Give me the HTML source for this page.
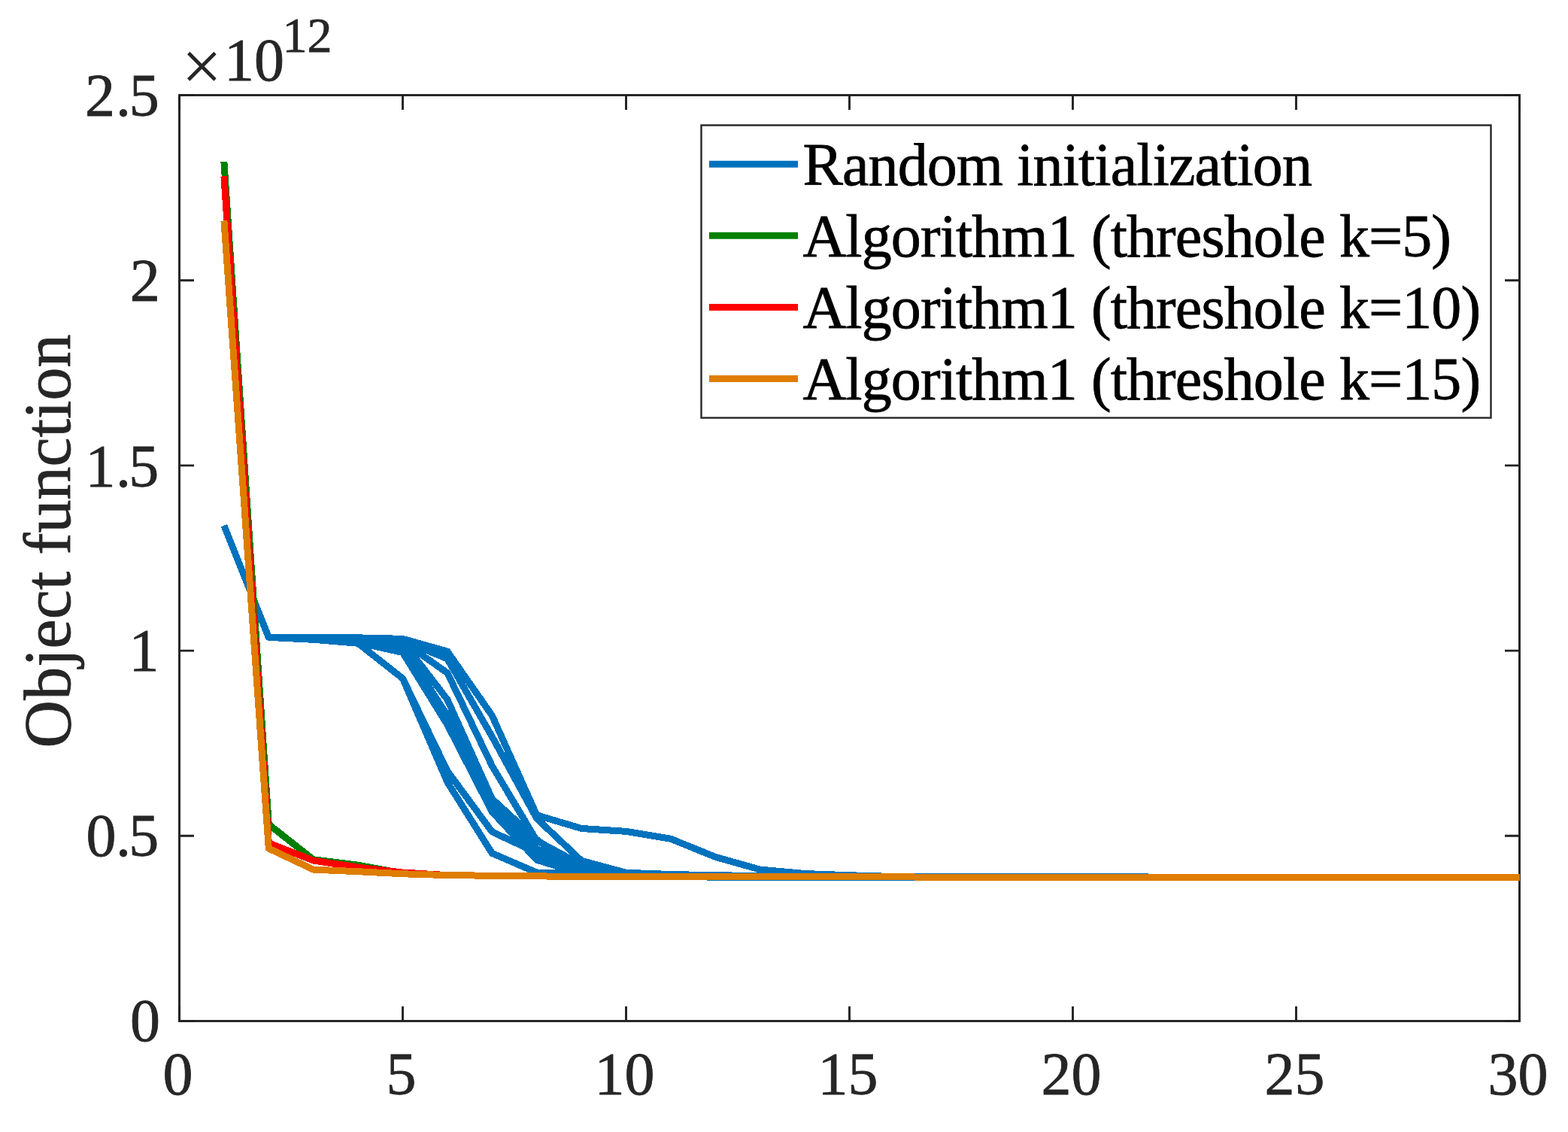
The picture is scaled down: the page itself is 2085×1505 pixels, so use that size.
<!DOCTYPE html>
<html><head><meta charset="utf-8"><style>
html,body{margin:0;padding:0;background:#fff;overflow:hidden;}
svg{display:block;}
text{font-family:"Liberation Serif",serif;}
</style></head><body>
<svg width="2085" height="1505" viewBox="0 0 2085 1505">
<rect width="2085" height="1505" fill="#fff"/>
<g fill="none" stroke="#222222" stroke-width="2.9" stroke-linecap="square">
<rect x="238.5" y="126.5" width="1782.0" height="1231.0"/>
</g>
<path d="M238.50 1357.5V1338.00M238.50 126.5V146.00M535.50 1357.5V1338.00M535.50 126.5V146.00M832.50 1357.5V1338.00M832.50 126.5V146.00M1129.50 1357.5V1338.00M1129.50 126.5V146.00M1426.50 1357.5V1338.00M1426.50 126.5V146.00M1723.50 1357.5V1338.00M1723.50 126.5V146.00M2020.50 1357.5V1338.00M2020.50 126.5V146.00M238.5 1357.50H258.00M2020.5 1357.50H2001.00M238.5 1111.30H258.00M2020.5 1111.30H2001.00M238.5 865.10H258.00M2020.5 865.10H2001.00M238.5 618.90H258.00M2020.5 618.90H2001.00M238.5 372.70H258.00M2020.5 372.70H2001.00M238.5 126.50H258.00M2020.5 126.50H2001.00" stroke="#222222" stroke-width="2.9" fill="none"/>
<g shape-rendering="crispEdges" fill="none" stroke-width="9" stroke-linejoin="round" stroke-linecap="butt">
<polyline points="297.90,698.67 357.30,847.37 416.70,850.33 476.10,855.25 535.50,902.03 594.90,1039.90 654.30,1134.44 713.70,1160.05 773.10,1161.03 832.50,1163.00 891.90,1163.99 951.30,1166.50 1010.70,1166.50 1070.10,1166.50 1129.50,1166.50 1188.90,1166.50 1248.30,1166.50 1307.70,1166.50 1367.10,1166.50 1426.50,1166.50 1485.90,1166.50 1545.30,1166.50 1604.70,1166.50 1664.10,1166.50 1723.50,1166.50 1782.90,1166.50 1842.30,1166.50 1901.70,1166.50 1961.10,1166.50 2020.50,1166.50" stroke="#0072BD"/>
<polyline points="297.90,698.67 357.30,847.37 416.70,850.33 476.10,855.25 535.50,902.03 594.90,1025.13 654.30,1105.88 713.70,1133.70 773.10,1160.54 832.50,1162.02 891.90,1163.99 951.30,1164.97 1010.70,1165.51 1070.10,1165.51 1129.50,1165.51 1188.90,1165.51 1248.30,1166.10 1307.70,1166.10 1367.10,1166.10 1426.50,1166.10 1485.90,1166.10 1545.30,1166.10 1604.70,1166.10 1664.10,1166.10 1723.50,1166.10 1782.90,1166.10 1842.30,1166.10 1901.70,1166.10 1961.10,1166.10 2020.50,1166.10" stroke="#0072BD"/>
<polyline points="297.90,698.67 357.30,847.37 416.70,849.34 476.10,854.27 535.50,867.56 594.90,963.58 654.30,1079.29 713.70,1143.31 773.10,1161.52 832.50,1163.00 891.90,1164.48 951.30,1165.22 1010.70,1165.51 1070.10,1165.51 1129.50,1165.51 1188.90,1165.51 1248.30,1166.10 1307.70,1166.10 1367.10,1166.10 1426.50,1166.10 1485.90,1166.10 1545.30,1166.10 1604.70,1166.10 1664.10,1166.10 1723.50,1166.10 1782.90,1166.10 1842.30,1166.10 1901.70,1166.10 1961.10,1166.10 2020.50,1166.10" stroke="#0072BD"/>
<polyline points="297.90,698.67 357.30,847.37 416.70,848.36 476.10,852.30 535.50,859.19 594.90,951.27 654.30,1070.43 713.70,1128.53 773.10,1159.06 832.50,1162.51 891.90,1163.99 951.30,1164.97 1010.70,1165.51 1070.10,1165.51 1129.50,1165.51 1188.90,1165.51 1248.30,1166.10 1307.70,1166.10 1367.10,1166.10 1426.50,1166.10 1485.90,1166.10 1545.30,1166.10 1604.70,1166.10 1664.10,1166.10 1723.50,1166.10 1782.90,1166.10 1842.30,1166.10 1901.70,1166.10 1961.10,1166.10 2020.50,1166.10" stroke="#0072BD"/>
<polyline points="297.90,698.67 357.30,847.37 416.70,848.36 476.10,850.33 535.50,852.79 594.90,930.10 654.30,1062.06 713.70,1116.22 773.10,1158.08 832.50,1162.02 891.90,1163.49 951.30,1164.97 1010.70,1165.51 1070.10,1165.51 1129.50,1165.51 1188.90,1165.51 1248.30,1166.10 1307.70,1166.10 1367.10,1166.10 1426.50,1166.10 1485.90,1166.10 1545.30,1166.10 1604.70,1166.10 1664.10,1166.10 1723.50,1166.10 1782.90,1166.10 1842.30,1166.10 1901.70,1166.10 1961.10,1166.10 2020.50,1166.10" stroke="#0072BD"/>
<polyline points="297.90,698.67 357.30,847.37 416.70,848.36 476.10,850.33 535.50,852.79 594.90,894.64 654.30,1018.24 713.70,1117.70 773.10,1149.71 832.50,1161.52 891.90,1163.49 951.30,1164.48 1010.70,1165.22 1070.10,1165.51 1129.50,1165.51 1188.90,1165.51 1248.30,1166.10 1307.70,1166.10 1367.10,1166.10 1426.50,1166.10 1485.90,1166.10 1545.30,1166.10 1604.70,1166.10 1664.10,1166.10 1723.50,1166.10 1782.90,1166.10 1842.30,1166.10 1901.70,1166.10 1961.10,1166.10 2020.50,1166.10" stroke="#0072BD"/>
<polyline points="297.90,698.67 357.30,847.37 416.70,847.87 476.10,849.34 535.50,851.31 594.90,875.93 654.30,979.34 713.70,1088.16 773.10,1144.29 832.50,1160.29 891.90,1162.51 951.30,1163.74 1010.70,1164.48 1070.10,1164.97 1129.50,1165.22 1188.90,1165.51 1248.30,1165.51 1307.70,1165.51 1367.10,1165.51 1426.50,1165.51 1485.90,1165.81 1545.30,1166.10 1604.70,1166.10 1664.10,1166.10 1723.50,1166.10 1782.90,1166.10 1842.30,1166.10 1901.70,1166.10 1961.10,1166.10 2020.50,1166.10" stroke="#0072BD"/>
<polyline points="297.90,698.67 357.30,847.37 416.70,847.87 476.10,847.87 535.50,849.34 594.90,866.08 654.30,951.27 713.70,1083.73 773.10,1101.45 832.50,1105.39 891.90,1115.24 951.30,1139.37 1010.70,1156.11 1070.10,1161.52 1129.50,1163.74 1188.90,1165.51 1248.30,1166.10 1307.70,1166.10 1367.10,1166.10 1426.50,1166.10 1485.90,1166.10 1545.30,1166.10 1604.70,1166.10 1664.10,1166.10 1723.50,1166.10 1782.90,1166.10 1842.30,1166.10 1901.70,1166.10 1961.10,1166.10 2020.50,1166.10" stroke="#0072BD"/>
<polyline points="297.90,215.13 357.30,1096.04 416.70,1142.81 476.10,1150.20 535.50,1161.03 594.90,1163.59 654.30,1164.28 713.70,1164.87 773.10,1165.51 832.50,1165.51 891.90,1165.51 951.30,1165.51 1010.70,1165.51 1070.10,1165.51 1129.50,1165.51 1188.90,1165.51 1248.30,1166.60 1307.70,1166.10 1367.10,1166.10 1426.50,1166.10 1485.90,1166.10 1545.30,1166.10 1604.70,1166.10 1664.10,1166.10 1723.50,1166.10 1782.90,1166.10 1842.30,1166.10 1901.70,1166.10 1961.10,1166.10 2020.50,1166.10" stroke="#008000"/>
<polyline points="297.90,234.34 357.30,1120.90 416.70,1144.04 476.10,1153.15 535.50,1160.05 594.90,1163.59 654.30,1164.28 713.70,1164.87 773.10,1165.51 832.50,1165.51 891.90,1165.51 951.30,1165.51 1010.70,1165.51 1070.10,1165.51 1129.50,1165.51 1188.90,1165.51 1248.30,1166.60 1307.70,1166.10 1367.10,1166.10 1426.50,1166.10 1485.90,1166.10 1545.30,1166.10 1604.70,1166.10 1664.10,1166.10 1723.50,1166.10 1782.90,1166.10 1842.30,1166.10 1901.70,1166.10 1961.10,1166.10 2020.50,1166.10" stroke="#FF0000"/>
<polyline points="297.90,293.42 357.30,1128.04 416.70,1156.11 476.10,1158.72 535.50,1161.77 594.90,1163.59 654.30,1164.28 713.70,1164.87 773.10,1165.51 832.50,1165.51 891.90,1165.51 951.30,1165.51 1010.70,1165.51 1070.10,1165.51 1129.50,1165.51 1188.90,1165.51 1248.30,1166.60 1307.70,1166.10 1367.10,1166.10 1426.50,1166.10 1485.90,1166.10 1545.30,1166.10 1604.70,1166.10 1664.10,1166.10 1723.50,1166.10 1782.90,1166.10 1842.30,1166.10 1901.70,1166.10 1961.10,1166.10 2020.50,1166.10" stroke="#DE7D00"/>
</g>
<g fill="#262626" stroke="#262626" stroke-width="0.8" font-size="80">
<text x="236.50" y="1455.3" text-anchor="middle">0</text>
<text x="533.50" y="1455.3" text-anchor="middle">5</text>
<text x="830.50" y="1455.3" text-anchor="middle">10</text>
<text x="1127.50" y="1455.3" text-anchor="middle">15</text>
<text x="1424.50" y="1455.3" text-anchor="middle">20</text>
<text x="1721.50" y="1455.3" text-anchor="middle">25</text>
<text x="2018.50" y="1455.3" text-anchor="middle">30</text>
<text x="192.90" y="1384.20" text-anchor="middle">0</text>
<text x="134.40" y="1138.10" text-anchor="middle">0</text>
<text x="164.00" y="1138.10" text-anchor="middle">.</text>
<text x="191.24" y="1138.10" text-anchor="middle">5</text>
<text x="191.39" y="891.90" text-anchor="middle">1</text>
<text x="133.49" y="646.50" text-anchor="middle">1</text>
<text x="164.00" y="646.50" text-anchor="middle">.</text>
<text x="191.24" y="646.50" text-anchor="middle">5</text>
<text x="192.65" y="399.90" text-anchor="middle">2</text>
<text x="133.05" y="153.90" text-anchor="middle">2</text>
<text x="164.00" y="153.90" text-anchor="middle">.</text>
<text x="191.64" y="153.90" text-anchor="middle">5</text>
</g>
<text x="241.6" y="119.9" font-size="95" fill="#262626">×</text>
<g fill="#262626" stroke="#262626" stroke-width="0.8">
<text x="298" y="106.8" font-size="80">10</text>
<text x="375.5" y="68.8" font-size="66">12</text>
</g>
<text transform="translate(93.3,719.5) rotate(-90)" text-anchor="middle" font-size="88" fill="#262626" stroke="#262626" stroke-width="0.8">Object function</text>
<rect x="932.5" y="166.5" width="1050" height="389" fill="#fff" stroke="#262626" stroke-width="2.4"/>
<g font-size="80" fill="#000" stroke="#000" stroke-width="0.8" letter-spacing="-0.9">
<line x1="942.9" y1="218.30" x2="1061" y2="218.30" stroke="#0072BD" stroke-width="9"/>
<text x="1067.5" y="245.60">Random initialization</text>
<line x1="942.9" y1="313.35" x2="1061" y2="313.35" stroke="#008000" stroke-width="9"/>
<text x="1067.5" y="340.65">Algorithm1 (threshole k=5)</text>
<line x1="942.9" y1="408.40" x2="1061" y2="408.40" stroke="#FF0000" stroke-width="9"/>
<text x="1067.5" y="435.70">Algorithm1 (threshole k=10)</text>
<line x1="942.9" y1="503.45" x2="1061" y2="503.45" stroke="#DE7D00" stroke-width="9"/>
<text x="1067.5" y="530.75">Algorithm1 (threshole k=15)</text>
</g>
</svg>
</body></html>
